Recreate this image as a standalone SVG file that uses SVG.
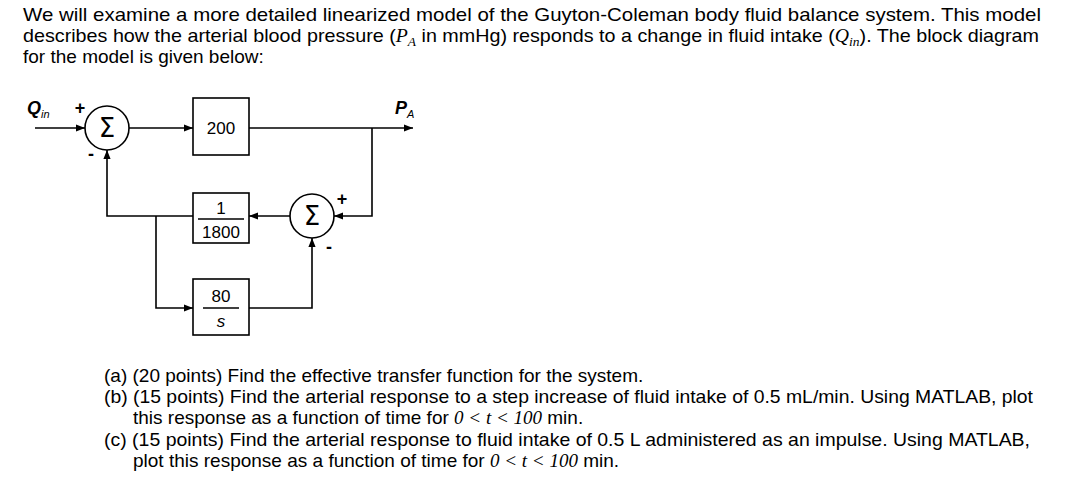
<svg xmlns="http://www.w3.org/2000/svg" width="1086" height="504" viewBox="0 0 1086 504">
<defs>
<marker id="ar" viewBox="0 0 10 10" refX="10" refY="5" markerWidth="9" markerHeight="9" markerUnits="userSpaceOnUse" orient="auto"><path d="M0,1 L10,5 L0,9 Z" fill="#000"/></marker>
<style>
.t{font-family:"Liberation Sans",Arial,sans-serif;font-size:19px;fill:#000}
.m{font-family:"Liberation Serif","Times New Roman",serif;font-style:italic}
.d{font-family:"Liberation Sans",Arial,sans-serif;font-size:17px;fill:#000;text-anchor:middle}
.g{font-family:"Liberation Sans",Arial,sans-serif;font-size:18px;font-weight:bold;fill:#000;text-anchor:middle}
.b{fill:#fff;stroke:#000;stroke-width:1.6}
.c{fill:none;stroke:#000;stroke-width:1.6}
.s{font-family:"DejaVu Sans",sans-serif;font-size:26px;text-anchor:middle;fill:#000}
</style>
</defs>
<rect width="1086" height="504" fill="#fff"/>
<text class="t" x="23" y="21" textLength="1018" lengthAdjust="spacingAndGlyphs">We will examine a more detailed linearized model of the Guyton-Coleman body fluid balance system. This model</text>
<text class="t" x="23" y="42" textLength="1016" lengthAdjust="spacingAndGlyphs">describes how the arterial blood pressure (<tspan class="m">P<tspan font-size="13" dy="4">A</tspan></tspan><tspan dy="-4"> in mmHg) responds to a change in fluid intake (</tspan><tspan class="m">Q<tspan font-size="13" dy="4">in</tspan></tspan><tspan dy="-4">). The block diagram</tspan></text>
<text class="t" x="23" y="63">for the model is given below:</text>

<g id="connectors" class="c">
<line x1="35" y1="128" x2="85" y2="128" marker-end="url(#ar)"/>
<line x1="129" y1="128" x2="193" y2="128" marker-end="url(#ar)"/>
<line x1="249" y1="128" x2="413" y2="128" marker-end="url(#ar)"/>
<polyline points="372,128 372,216 334,216" marker-end="url(#ar)"/>
<line x1="290" y1="216" x2="249" y2="216" marker-end="url(#ar)"/>
<polyline points="193,216 107,216 107,150" marker-end="url(#ar)"/>
<polyline points="156,216 156,308 193,308" marker-end="url(#ar)"/>
<polyline points="249,308 312,308 312,238" marker-end="url(#ar)"/>
</g>
<text x="27" y="114" font-family="Liberation Sans,Arial,sans-serif" font-size="18" font-weight="bold" font-style="italic">Q<tspan font-size="11" dy="4" font-weight="normal">in</tspan></text>
<text x="395" y="114" font-family="Liberation Sans,Arial,sans-serif" font-size="18" font-weight="bold" font-style="italic">P<tspan font-size="11" dy="4" font-weight="normal">A</tspan></text>

<g id="sum1"><circle class="c" cx="107" cy="128" r="22"/><text class="s" x="107" y="137">Σ</text>
<text class="g" x="80" y="114">+</text><text class="g" x="91" y="160">-</text></g>
<g id="sum2"><circle class="c" cx="312" cy="216" r="22"/><text class="s" x="312" y="225">Σ</text>
<text class="g" x="342" y="205">+</text><text class="g" x="329" y="253">-</text></g>
<g id="g200"><rect class="b" x="193" y="98" width="56" height="57"/><text class="d" x="221" y="134">200</text></g>
<g id="g1800"><rect class="b" x="193" y="193" width="56" height="50"/><text class="d" x="221" y="214">1</text><line x1="198" y1="219" x2="244" y2="219" stroke="#000" stroke-width="1.3"/><text class="d" x="221" y="238">1800</text></g>
<g id="g80s"><rect class="b" x="193" y="279" width="56" height="56"/><text class="d" x="221" y="302">80</text><line x1="203" y1="308" x2="239" y2="308" stroke="#000" stroke-width="1.3"/><text class="d" x="221" y="327" font-style="italic">s</text></g>

<text class="t" x="104" y="382">(a)  (20 points) Find the effective transfer function for the system.</text>
<text class="t" x="104" y="403" textLength="929" lengthAdjust="spacingAndGlyphs">(b)  (15 points) Find the arterial response to a step increase of fluid intake of 0.5 mL/min. Using MATLAB, plot</text>
<text class="t" x="133" y="424">this response as a function of time for <tspan class="m" font-style="normal">0 &lt; </tspan><tspan class="m">t</tspan><tspan class="m" font-style="normal"> &lt; 100</tspan> min.</text>
<text class="t" x="104" y="446" textLength="926" lengthAdjust="spacingAndGlyphs">(c)  (15 points) Find the arterial response to fluid intake of 0.5 L administered as an impulse. Using MATLAB,</text>
<text class="t" x="133" y="467">plot this response as a function of time for <tspan class="m" font-style="normal">0 &lt; </tspan><tspan class="m">t</tspan><tspan class="m" font-style="normal"> &lt; 100</tspan> min.</text>
</svg>
